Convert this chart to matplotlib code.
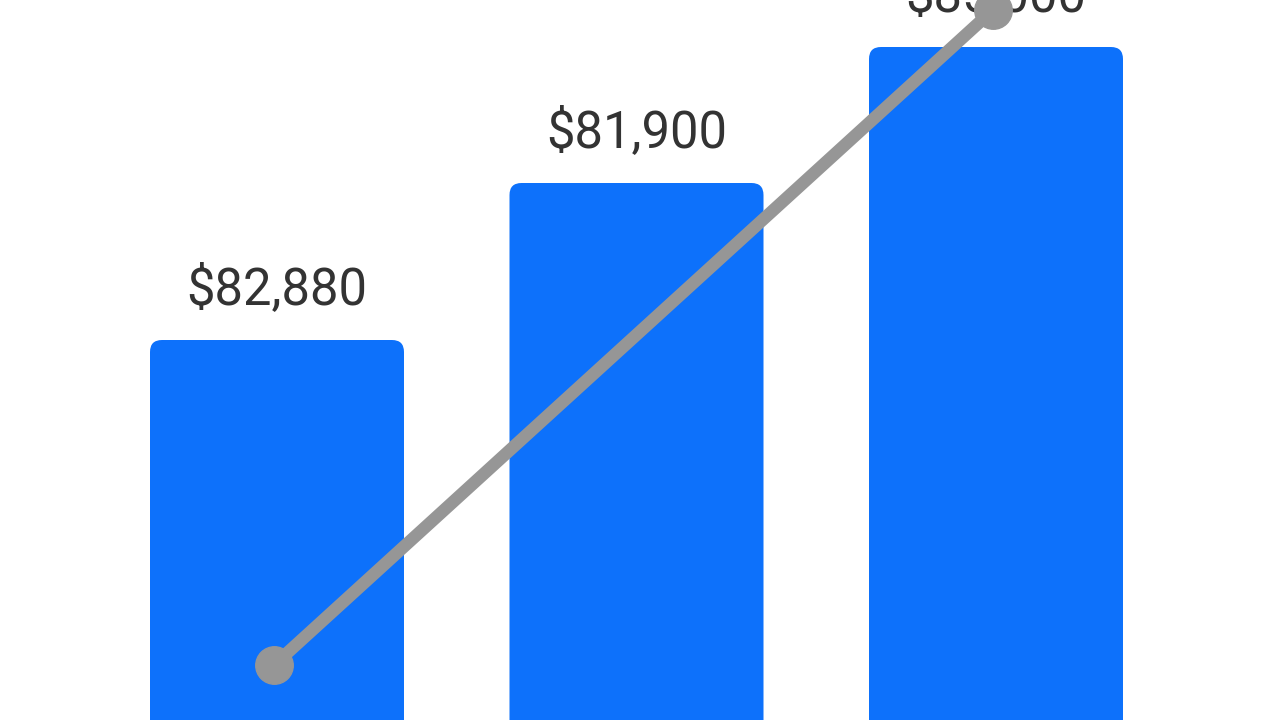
import matplotlib
matplotlib.use("Agg")
import matplotlib.pyplot as plt
from matplotlib.patches import FancyBboxPatch

categories = ["A", "B", "C"]
bar_values = [380, 537, 673]
bar_labels = ["$82,880", "$81,900", "$85,000"]
line_values = [55, 382.5, 710]

BAR_COLOR = "#0d71fb"
LINE_COLOR = "#969696"
TEXT_COLOR = "#333333"

plt.rcParams['font.family'] = ['Roboto', 'DejaVu Sans']

fig = plt.figure(figsize=(12.8, 7.2), dpi=100)
ax = fig.add_axes([0, 0, 1, 1])
ax.set_xlim(-277 / 359.5, (1280 - 277) / 359.5)
ax.set_ylim(0, 720)
ax.axis("off")

x = list(range(len(categories)))
width = 254 / 359.5
bars = ax.bar(x, bar_values, width=width, color=BAR_COLOR)
for b in bars:
    b.set_visible(False)
    bx, by = b.get_x(), b.get_y() - 60
    bw, bh = b.get_width(), b.get_height() + 60
    patch = FancyBboxPatch((bx, by), bw, bh,
                           boxstyle="round,pad=0,rounding_size=%f" % (12 / 359.5),
                           mutation_aspect=359.5,
                           facecolor=BAR_COLOR, edgecolor="none", zorder=2)
    ax.add_patch(patch)

for xi, v, lab in zip(x, bar_values, bar_labels):
    ax.text(xi, v + 50, lab, ha="center", va="center", fontsize=36.5,
            color=TEXT_COLOR, zorder=3)

ax.plot([xi - 3 / 359.5 for xi in x], line_values, color=LINE_COLOR, linewidth=9,
        solid_capstyle="round", marker="o", markersize=27, markevery=[0, 2], zorder=4)

fig.savefig("out.png", dpi=100)
